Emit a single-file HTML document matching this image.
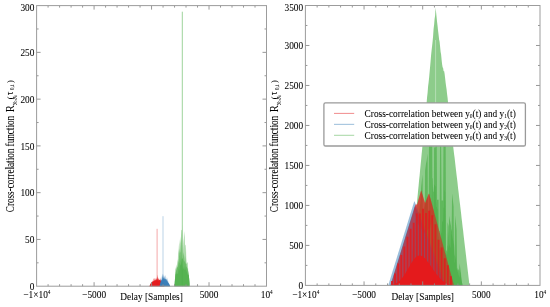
<!DOCTYPE html>
<html><head><meta charset="utf-8"><style>html,body{margin:0;padding:0;background:#fff;overflow:hidden}svg{display:block} text{stroke:#000;stroke-width:0.05px}</style></head>
<body><svg width="550" height="307" viewBox="0 0 550 307" font-family='"Liberation Serif", "DejaVu Serif", serif' font-size="9.35" fill="#000">
<rect width="550" height="307" fill="#fff"/>
<path d="M149.60 286.20 149.60 286.20 149.90 285.45 150.20 284.70 150.50 283.95 150.80 283.49 151.10 283.17 151.40 282.86 151.70 282.54 152.00 282.23 152.30 279.64 152.60 281.65 152.90 281.50 153.20 281.35 153.50 278.32 153.80 278.80 154.10 279.04 154.40 280.75 154.70 280.60 155.00 280.07 155.30 280.30 155.60 280.19 155.90 280.14 156.20 277.13 156.50 280.06 156.80 279.21 157.10 276.70 157.40 279.93 157.70 276.41 158.00 276.89 158.30 279.80 158.60 279.16 158.90 279.71 159.20 279.80 159.50 279.95 159.80 280.10 160.10 280.25 160.40 279.10 160.70 280.55 161.00 280.70 161.30 280.85 161.60 281.00 161.90 280.86 162.20 281.53 162.50 282.03 162.80 282.53 163.10 283.03 163.40 283.53 163.70 284.41 164.00 285.49 164.30 286.20 164.30 286.20Z" fill="#E41A1C" fill-opacity="0.5"/>
<path d="M149.60 286.20 149.60 286.20 149.90 285.45 150.20 284.70 150.50 283.77 150.80 283.49 151.10 282.23 151.40 282.86 151.70 282.54 152.00 281.98 152.30 281.91 152.60 281.65 152.90 281.50 153.20 281.35 153.50 281.20 153.80 281.05 154.10 280.50 154.40 280.74 154.70 280.60 155.00 278.83 155.30 280.30 155.60 280.19 155.90 278.33 156.20 280.10 156.50 278.98 156.80 279.88 157.10 275.67 157.40 274.79 157.70 278.63 158.00 277.72 158.30 279.80 158.60 279.10 158.90 277.65 159.20 279.80 159.50 279.95 159.80 280.10 160.10 276.91 160.40 280.40 160.70 280.55 161.00 280.70 161.30 280.85 161.60 281.00 161.90 279.68 162.20 280.49 162.50 282.03 162.80 281.81 163.10 283.03 163.40 283.53 163.70 284.41 164.00 285.49 164.30 286.20 164.30 286.20Z" fill="#E41A1C" fill-opacity="0.5"/>
<path d="M149.60 286.20 149.60 286.20 149.90 285.45 150.20 284.70 150.50 283.95 150.80 283.49 151.10 283.17 151.40 282.86 151.70 282.54 152.00 281.12 152.30 281.91 152.60 281.65 152.90 281.50 153.20 281.35 153.50 281.20 153.80 281.05 154.10 278.10 154.40 278.20 154.70 280.60 155.00 280.45 155.30 280.02 155.60 277.77 155.90 280.14 156.20 278.22 156.50 280.06 156.80 280.01 157.10 278.41 157.40 279.93 157.70 279.00 158.00 279.04 158.30 279.80 158.60 279.76 158.90 279.71 159.20 279.80 159.50 279.95 159.80 280.10 160.10 280.25 160.40 280.40 160.70 278.60 161.00 280.70 161.30 280.85 161.60 281.00 161.90 281.15 162.20 281.53 162.50 281.22 162.80 282.53 163.10 283.03 163.40 283.53 163.70 284.41 164.00 285.49 164.30 286.20 164.30 286.20Z" fill="#E41A1C" fill-opacity="0.5"/>
<path d="M149.60 286.20 149.60 286.20 149.90 285.48 150.20 284.80 150.50 284.18 150.80 283.70 151.10 283.60 151.40 283.34 151.70 282.80 152.00 282.54 152.30 282.02 152.60 282.32 152.90 281.81 153.20 281.72 153.50 281.50 153.80 281.26 154.10 281.28 154.40 281.11 154.70 281.03 155.00 280.78 155.30 280.97 155.60 280.59 155.90 280.44 156.20 280.84 156.50 280.07 156.80 280.25 157.10 280.01 157.40 280.59 157.70 280.41 158.00 280.55 158.30 280.72 158.60 280.71 158.90 280.45 159.20 279.93 159.50 280.73 159.80 280.38 160.10 280.92 160.40 281.21 160.70 281.23 161.00 280.97 161.30 281.25 161.60 281.35 161.90 281.56 162.20 282.04 162.50 282.35 162.80 282.58 163.10 283.41 163.40 283.64 163.70 284.61 164.00 285.57 164.30 286.20 164.30 286.20Z" fill="#E41A1C" fill-opacity="0.9"/>
<path d="M157.10 286.20v-57.40" stroke="#E41A1C" stroke-opacity="0.42" stroke-width="0.9"/>
<path d="M159.70 286.20 159.70 286.20 160.00 284.09 160.30 283.89 160.60 282.74 160.90 281.58 161.20 280.90 161.50 280.45 161.80 280.00 162.10 279.45 162.40 273.74 162.70 274.74 163.00 278.20 163.30 278.32 163.60 274.08 163.90 278.56 164.20 275.58 164.50 278.80 164.80 276.99 165.10 279.04 165.40 279.16 165.70 279.44 166.00 279.80 166.30 279.00 166.60 278.69 166.90 280.88 167.20 281.24 167.50 278.77 167.80 281.96 168.10 280.48 168.40 282.93 168.70 283.47 169.00 284.02 169.30 284.56 169.60 285.11 169.90 285.65 170.20 286.20 170.20 286.20Z" fill="#377EB8" fill-opacity="0.5"/>
<path d="M159.70 286.20 159.70 286.20 160.00 285.05 160.30 283.89 160.60 282.74 160.90 277.98 161.20 280.90 161.50 280.45 161.80 275.38 162.10 279.55 162.40 279.10 162.70 276.16 163.00 278.20 163.30 278.32 163.60 273.93 163.90 277.84 164.20 278.68 164.50 278.80 164.80 278.92 165.10 275.63 165.40 275.21 165.70 279.44 166.00 279.80 166.30 280.16 166.60 280.52 166.90 279.92 167.20 280.56 167.50 281.60 167.80 281.96 168.10 282.38 168.40 282.93 168.70 282.89 169.00 283.09 169.30 284.56 169.60 285.11 169.90 285.65 170.20 286.20 170.20 286.20Z" fill="#377EB8" fill-opacity="0.5"/>
<path d="M159.70 286.20 159.70 286.20 160.00 285.05 160.30 283.81 160.60 282.34 160.90 281.35 161.20 278.37 161.50 280.45 161.80 280.00 162.10 275.82 162.40 279.10 162.70 273.54 163.00 278.20 163.30 276.15 163.60 278.44 163.90 278.56 164.20 275.15 164.50 278.80 164.80 278.92 165.10 279.04 165.40 279.16 165.70 277.55 166.00 279.80 166.30 278.73 166.60 280.52 166.90 277.03 167.20 278.13 167.50 281.22 167.80 281.96 168.10 282.11 168.40 282.93 168.70 283.47 169.00 284.02 169.30 284.56 169.60 285.11 169.90 285.65 170.20 286.20 170.20 286.20Z" fill="#377EB8" fill-opacity="0.5"/>
<path d="M159.70 286.20 159.70 286.20 160.00 285.08 160.30 284.24 160.60 283.23 160.90 282.23 161.20 280.95 161.50 280.61 161.80 280.92 162.10 279.62 162.40 279.92 162.70 279.48 163.00 278.70 163.30 279.26 163.60 278.47 163.90 279.29 164.20 279.16 164.50 279.27 164.80 279.70 165.10 279.33 165.40 279.17 165.70 279.85 166.00 280.68 166.30 280.33 166.60 280.80 166.90 281.29 167.20 281.50 167.50 282.11 167.80 282.40 168.10 282.66 168.40 283.38 168.70 283.64 169.00 284.29 169.30 284.75 169.60 285.13 169.90 285.69 170.20 286.20 170.20 286.20Z" fill="#377EB8" fill-opacity="0.85"/>
<path d="M163.00 286.20v-70.00" stroke="#377EB8" stroke-opacity="0.38" stroke-width="0.9"/>
<path d="M174.50 286.20 174.50 286.20 175.10 276.63 175.70 268.72 176.30 264.23 176.90 268.55 177.50 262.32 178.10 258.86 178.70 264.80 179.30 248.28 179.90 253.20 180.50 251.37 181.10 239.33 181.70 259.11 182.30 258.34 182.90 224.75 183.50 260.06 184.10 260.91 184.70 261.77 185.30 263.00 185.90 255.98 186.50 266.20 187.10 267.80 187.70 269.40 188.30 272.05 188.90 275.74 189.50 283.53 189.50 286.20Z" fill="#4DAF4A" fill-opacity="0.45"/>
<path d="M174.50 286.20 174.50 286.20 175.10 277.20 175.70 272.79 176.30 270.67 176.90 267.26 177.50 267.20 178.10 253.62 178.70 249.36 179.30 239.22 179.90 255.58 180.50 261.29 181.10 230.22 181.70 230.03 182.30 258.34 182.90 259.20 183.50 243.45 184.10 236.51 184.70 230.93 185.30 263.00 185.90 264.60 186.50 263.81 187.10 262.54 187.70 262.60 188.30 272.05 188.90 275.74 189.50 283.53 189.50 286.20Z" fill="#4DAF4A" fill-opacity="0.45"/>
<path d="M174.50 286.20 174.50 286.20 175.10 277.20 175.70 267.92 176.30 270.67 176.90 268.55 177.50 267.20 178.10 266.00 178.70 260.84 179.30 263.60 179.90 244.50 180.50 236.41 181.10 260.20 181.70 228.61 182.30 258.34 182.90 259.20 183.50 252.20 184.10 256.09 184.70 261.77 185.30 245.53 185.90 244.51 186.50 266.20 187.10 267.80 187.70 268.99 188.30 272.05 188.90 275.74 189.50 283.53 189.50 286.20Z" fill="#4DAF4A" fill-opacity="0.45"/>
<path d="M174.50 286.20 174.50 286.20 175.10 279.32 175.70 273.93 176.30 274.45 176.90 272.38 177.50 273.99 178.10 273.78 178.70 267.62 179.30 270.89 179.90 262.81 180.50 265.63 181.10 264.60 181.70 260.25 182.30 266.17 182.90 269.88 183.50 268.22 184.10 266.40 184.70 270.06 185.30 269.67 185.90 266.87 186.50 271.18 187.10 272.65 187.70 274.55 188.30 274.70 188.90 275.76 189.50 284.42 189.50 286.20Z" fill="#4DAF4A" fill-opacity="0.7"/>
<path d="M182.30 286.20v-274.50" stroke="#4DAF4A" stroke-opacity="0.62" stroke-width="0.9"/>
<path d="M409.10 285.40 409.10 284.37 409.60 279.17 410.10 273.97 410.60 268.86 411.10 263.67 411.60 258.29 412.10 253.35 412.60 248.16 413.10 242.63 413.60 237.58 414.10 232.51 414.60 227.24 415.10 221.95 415.60 217.02 416.10 211.94 416.60 206.25 417.10 201.15 417.60 196.09 418.10 190.61 418.60 185.67 419.10 180.02 419.60 175.66 420.10 170.08 420.60 164.97 421.10 159.94 421.60 154.44 422.10 149.73 422.60 143.75 423.10 138.45 423.60 134.36 424.10 128.65 424.60 123.77 425.10 118.92 425.60 112.34 426.10 107.96 426.60 103.29 427.10 97.12 427.60 92.84 428.10 86.27 428.60 82.45 429.10 77.66 429.60 72.13 430.10 66.64 430.60 61.18 431.10 54.98 431.60 50.26 432.10 45.92 432.60 41.53 433.10 36.00 433.60 28.68 434.10 24.87 434.60 19.06 435.10 15.59 435.60 7.80 436.10 12.41 436.60 17.28 437.10 22.19 437.60 26.32 438.10 31.07 438.60 35.00 439.10 39.52 439.60 41.68 440.10 46.75 440.60 51.71 441.10 54.45 441.60 59.86 442.10 64.31 442.60 67.28 443.10 68.00 443.60 71.25 444.10 70.94 444.60 73.63 445.10 78.08 445.60 82.49 446.10 86.18 446.60 89.58 447.10 94.31 447.60 97.90 448.10 103.35 448.60 107.42 449.10 111.78 449.60 114.81 450.10 119.16 450.60 124.41 451.10 128.52 451.60 132.97 452.10 136.59 452.60 141.89 453.10 146.09 453.60 149.88 454.10 154.35 454.60 157.84 455.10 162.25 455.60 166.76 456.10 170.89 456.60 175.13 457.10 179.31 457.60 183.44 458.10 188.48 458.60 192.29 459.10 196.99 459.60 200.99 460.10 204.97 460.60 209.17 461.10 213.55 461.60 218.32 462.10 222.36 462.60 226.73 463.10 230.53 463.60 235.24 464.10 239.45 464.60 243.66 465.10 248.03 465.60 252.00 466.10 256.35 466.60 260.74 467.10 264.92 467.60 269.26 468.10 273.44 468.60 277.74 469.10 282.00 469.10 285.40Z" fill="#4DAF4A" fill-opacity="0.64"/>
<path d="M409.10 285.40 409.10 285.40 409.60 285.40 410.10 284.56 410.60 280.35 411.10 276.14 411.60 272.98 412.10 269.11 412.60 265.23 413.10 278.26 413.60 277.10 414.10 275.95 414.60 252.54 415.10 248.97 415.60 277.18 416.10 276.45 416.60 275.72 417.10 272.32 417.60 271.40 418.10 216.34 418.60 212.07 419.10 212.41 419.60 208.40 420.10 204.39 420.60 200.38 421.10 187.64 421.60 183.24 422.10 178.84 422.60 174.43 423.10 252.36 423.60 251.09 424.10 249.83 424.60 248.57 425.10 170.55 425.60 166.75 426.10 162.94 426.60 160.91 427.10 157.16 427.60 153.41 428.10 253.28 428.60 252.39 429.10 117.44 429.60 113.05 430.10 112.55 430.60 118.26 431.10 118.26 431.60 118.26 432.10 118.26 432.60 238.38 433.10 238.38 433.60 238.38 434.10 147.59 434.60 147.59 435.10 147.59 435.60 147.59 436.10 119.92 436.60 119.92 437.10 208.65 437.60 208.65 438.10 236.56 438.60 236.56 439.10 230.70 439.60 230.70 440.10 141.93 440.60 141.93 441.10 141.93 441.60 200.43 442.10 200.43 442.60 200.43 443.10 200.43 443.60 123.16 444.10 124.59 444.60 128.96 445.10 122.72 445.60 127.39 446.10 249.66 446.60 250.75 447.10 251.84 447.60 222.19 448.10 224.31 448.60 226.43 449.10 243.56 449.60 245.12 450.10 246.68 450.60 248.24 451.10 228.83 451.60 231.31 452.10 193.20 452.60 197.64 453.10 202.07 453.60 206.50 454.10 261.74 454.60 263.15 455.10 215.35 455.60 220.08 456.10 224.82 456.60 229.55 457.10 267.24 457.60 268.92 458.10 270.60 458.60 268.82 459.10 270.95 459.60 263.22 460.10 267.05 460.60 270.46 461.10 274.39 461.60 280.77 462.10 283.34 462.60 285.40 463.10 285.40 463.60 285.40 464.10 285.40 464.60 285.40 465.10 285.40 465.60 285.40 466.10 285.40 466.60 285.40 467.10 285.40 467.60 285.40 468.10 285.40 468.60 285.40 469.10 285.40 469.10 285.40Z" fill="#4DAF4A" fill-opacity="0.7"/>
<path d="M409.10 285.40 409.10 285.40 409.60 285.40 410.10 284.93 410.60 282.55 411.10 282.56 411.60 281.27 412.10 279.99 412.60 278.70 413.10 277.41 413.60 275.41 414.10 274.02 414.60 272.63 415.10 271.25 415.60 277.50 416.10 276.79 416.60 252.43 417.10 249.93 417.60 251.79 418.10 249.58 418.60 265.64 419.10 264.50 419.60 262.36 420.10 261.16 420.60 240.60 421.10 238.48 421.60 257.30 422.10 256.09 422.60 254.87 423.10 253.66 423.60 210.92 424.10 208.18 424.60 205.45 425.10 202.71 425.60 205.09 426.10 202.52 426.60 199.94 427.10 197.37 427.60 194.79 428.10 220.28 428.60 218.49 429.10 216.69 429.60 214.89 430.10 254.71 430.60 254.71 431.10 254.71 431.60 254.71 432.10 178.23 432.60 178.23 433.10 191.74 433.60 191.74 434.10 184.76 434.60 184.76 435.10 186.30 435.60 186.30 436.10 206.97 436.60 206.97 437.10 199.84 437.60 199.84 438.10 199.84 438.60 199.84 439.10 249.75 439.60 249.75 440.10 249.75 440.60 249.75 441.10 232.74 441.60 232.74 442.10 221.39 442.60 221.39 443.10 221.39 443.60 207.38 444.10 208.07 444.60 189.55 445.10 192.23 445.60 252.56 446.10 253.54 446.60 254.51 447.10 255.48 447.60 245.23 448.10 246.58 448.60 247.93 449.10 215.85 449.60 218.45 450.10 221.04 450.60 223.64 451.10 226.23 451.60 233.68 452.10 236.05 452.60 238.42 453.10 240.38 453.60 242.77 454.10 245.17 454.60 254.52 455.10 256.47 455.60 258.43 456.10 260.38 456.60 268.59 457.10 270.01 457.60 271.44 458.10 272.86 458.60 275.12 459.10 276.44 459.60 277.75 460.10 271.74 460.60 274.58 461.10 277.43 461.60 280.28 462.10 283.12 462.60 285.40 463.10 285.40 463.60 285.40 464.10 285.40 464.60 285.40 465.10 285.40 465.60 285.40 466.10 285.40 466.60 285.40 467.10 285.40 467.60 285.40 468.10 285.40 468.60 285.40 469.10 285.40 469.10 285.40Z" fill="#4DAF4A" fill-opacity="0.7"/>
<path d="M435.6 40V104" stroke="#fff" stroke-opacity="0.35" stroke-width="1"/>
<path d="M388.20 285.40 388.20 285.40 388.70 283.79 389.20 282.17 389.70 280.56 390.20 278.94 390.70 277.33 391.20 275.71 391.70 274.10 392.20 272.48 392.70 270.87 393.20 269.25 393.70 267.64 394.20 266.03 394.70 264.41 395.20 262.80 395.70 261.18 396.20 259.57 396.70 257.95 397.20 256.34 397.70 254.72 398.20 253.11 398.70 251.50 399.20 249.88 399.70 248.27 400.20 246.65 400.70 245.04 401.20 243.42 401.70 241.81 402.20 240.19 402.70 238.58 403.20 236.96 403.70 235.35 404.20 233.74 404.70 232.12 405.20 230.51 405.70 228.89 406.20 227.28 406.70 225.66 407.20 224.05 407.70 222.43 408.20 220.82 408.70 219.21 409.20 217.59 409.70 215.98 410.20 214.36 410.70 212.75 411.20 211.13 411.70 209.52 412.20 207.90 412.70 206.29 413.20 204.67 413.70 203.06 414.20 201.45 414.70 201.60 415.20 202.94 415.70 204.28 416.20 205.62 416.70 206.96 417.20 208.30 417.70 209.63 418.20 210.97 418.70 212.31 419.20 213.65 419.70 214.99 420.20 216.33 420.70 217.67 421.20 219.01 421.70 220.34 422.20 221.68 422.70 223.02 423.20 224.36 423.70 225.70 424.20 227.04 424.70 228.38 425.20 229.71 425.70 231.05 426.20 232.39 426.70 233.73 427.20 235.07 427.70 236.41 428.20 237.75 428.70 239.08 429.20 240.42 429.70 241.76 430.20 243.10 430.70 244.44 431.20 245.78 431.70 247.12 432.20 248.45 432.70 249.79 433.20 251.13 433.70 252.47 434.20 253.81 434.70 255.15 435.20 256.49 435.70 257.82 436.20 259.16 436.70 260.50 437.20 261.84 437.70 263.18 438.20 264.52 438.70 265.86 439.20 267.19 439.70 268.53 440.20 269.87 440.70 271.21 441.20 272.55 441.70 273.89 442.20 275.23 442.70 276.57 443.20 277.90 443.70 279.24 444.20 280.58 444.70 281.92 445.20 283.26 445.70 284.60 445.70 285.40Z" fill="#377EB8" fill-opacity="0.5"/>
<path d="M388.20 285.40 388.20 285.40 388.70 285.40 389.20 285.40 389.70 285.40 390.20 285.40 390.70 284.42 391.20 282.80 391.70 281.17 392.20 279.55 392.70 277.92 393.20 276.29 393.70 274.67 394.20 273.04 394.70 271.42 395.20 269.79 395.70 268.16 396.20 266.54 396.70 264.91 397.20 263.29 397.70 261.66 398.20 260.03 398.70 258.41 399.20 256.78 399.70 255.16 400.20 253.53 400.70 251.90 401.20 250.28 401.70 248.65 402.20 247.03 402.70 245.40 403.20 243.77 403.70 242.15 404.20 240.52 404.70 238.90 405.20 237.27 405.70 235.64 406.20 234.02 406.70 232.39 407.20 230.77 407.70 229.14 408.20 227.51 408.70 225.89 409.20 224.26 409.70 222.64 410.20 221.01 410.70 219.38 411.20 217.76 411.70 216.13 412.20 214.51 412.70 212.88 413.20 211.25 413.70 209.63 414.20 208.00 414.70 206.38 415.20 205.93 415.70 207.27 416.20 208.60 416.70 209.93 417.20 211.27 417.70 212.60 418.20 213.93 418.70 215.27 419.20 216.60 419.70 217.93 420.20 219.27 420.70 220.60 421.20 221.93 421.70 223.27 422.20 224.60 422.70 225.93 423.20 227.27 423.70 228.60 424.20 229.93 424.70 231.27 425.20 232.60 425.70 233.93 426.20 235.27 426.70 236.60 427.20 237.93 427.70 239.27 428.20 240.60 428.70 241.93 429.20 243.27 429.70 244.60 430.20 245.93 430.70 247.27 431.20 248.60 431.70 249.93 432.20 251.27 432.70 252.60 433.20 253.93 433.70 255.27 434.20 256.60 434.70 257.93 435.20 259.27 435.70 260.60 436.20 261.93 436.70 263.27 437.20 264.60 437.70 265.93 438.20 267.27 438.70 268.60 439.20 269.93 439.70 271.27 440.20 272.60 440.70 273.93 441.20 275.27 441.70 276.60 442.20 277.93 442.70 279.27 443.20 280.60 443.70 281.93 444.20 283.27 444.70 284.60 445.20 285.40 445.70 285.40 445.70 285.40Z" fill="#377EB8" fill-opacity="0.8"/>
<path d="M390.20 285.40 390.20 285.40 390.70 285.08 391.20 283.46 391.70 281.84 392.20 280.22 392.70 278.60 393.20 276.98 393.70 275.36 394.20 273.74 394.70 272.12 395.20 270.50 395.70 268.88 396.20 267.26 396.70 265.64 397.20 264.02 397.70 262.40 398.20 260.78 398.70 259.16 399.20 257.54 399.70 255.92 400.20 254.30 400.70 252.68 401.20 251.06 401.70 249.44 402.20 247.82 402.70 246.20 403.20 244.58 403.70 242.96 404.20 241.34 404.70 239.72 405.20 238.10 405.70 236.48 406.20 234.86 406.70 233.24 407.20 231.62 407.70 230.00 408.20 228.38 408.70 226.76 409.20 225.14 409.70 223.52 410.20 221.90 410.70 220.28 411.20 218.66 411.70 217.04 412.20 215.42 412.70 213.80 413.20 212.18 413.70 210.56 414.20 208.94 414.70 207.32 415.20 205.70 415.70 204.40 416.20 204.40 416.70 204.40 417.20 204.40 417.70 202.64 418.20 200.87 418.70 199.11 419.20 197.35 419.70 195.59 420.20 193.82 420.70 192.06 421.20 190.30 421.70 191.98 422.20 193.66 422.70 195.34 423.20 197.02 423.70 198.70 424.20 200.38 424.70 202.06 425.20 203.14 425.70 201.85 426.20 200.55 426.70 199.26 427.20 197.96 427.70 196.67 428.20 195.37 428.70 194.08 429.20 194.04 429.70 195.88 430.20 197.72 430.70 199.56 431.20 201.40 431.70 203.25 432.20 205.09 432.70 206.93 433.20 208.77 433.70 210.61 434.20 212.46 434.70 214.30 435.20 216.14 435.70 217.98 436.20 219.82 436.70 221.67 437.20 223.51 437.70 225.35 438.20 227.19 438.70 229.03 439.20 230.88 439.70 232.72 440.20 234.56 440.70 236.40 441.20 238.24 441.70 240.09 442.20 241.93 442.70 243.77 443.20 245.61 443.70 247.45 444.20 249.30 444.70 251.14 445.20 252.98 445.70 254.82 446.20 256.66 446.70 258.51 447.20 260.35 447.70 262.19 448.20 264.03 448.70 265.87 449.20 267.72 449.70 269.56 450.20 271.40 450.70 273.24 451.20 275.08 451.70 276.93 452.20 278.77 452.70 280.61 453.20 282.45 453.70 284.29 453.70 285.40Z" fill="#E41A1C" fill-opacity="0.6"/>
<path d="M414.00 210.40L414.00 209.58L414.50 207.96L415.00 206.34L415.50 204.72L416.00 204.40L416.50 204.40L417.00 204.40L417.50 203.34L418.00 201.58L418.50 199.82L419.00 198.05L419.50 196.29L420.00 194.53L420.50 192.77L421.00 191.00L421.50 191.31L422.00 192.99L422.50 194.67L423.00 196.35L423.50 198.03L424.00 199.71L424.50 201.38L425.00 203.06L425.50 202.36L426.00 201.07L426.50 199.77L427.00 198.48L427.50 197.18L428.00 195.89L428.50 194.59L429.00 193.30L429.50 195.14L430.00 196.98L430.50 198.83L431.00 200.67L431.50 202.51L432.00 204.35L432.50 206.19L433.00 208.04L433.50 209.88L434.00 211.72L434.00 215.40L433.50 216.90L433.00 218.40L432.50 219.90L432.00 221.40L431.50 222.90L431.00 224.40L430.50 225.90L430.00 227.40L429.50 227.90L429.00 228.40L428.50 228.90L428.00 229.40L427.50 229.90L427.00 230.40L426.50 230.90L426.00 231.40L425.50 231.90L425.00 232.40L424.50 232.90L424.00 233.40L423.50 232.57L423.00 231.73L422.50 230.90L422.00 230.07L421.50 229.23L421.00 228.40L420.50 227.57L420.00 226.73L419.50 225.90L419.00 225.07L418.50 224.23L418.00 223.40L417.50 221.77L417.00 220.15L416.50 218.52L416.00 216.90L415.50 215.27L415.00 213.65L414.50 212.02L414.00 210.40Z" fill="#E41A1C" fill-opacity="0.3"/>
<path d="M391.05 285.40v-4.30h1.90v4.30zM394.15 285.40v-11.95h1.90v11.95zM397.25 285.40v-21.98h1.90v21.98zM400.35 285.40v-30.44h1.90v30.44zM403.45 285.40v-38.78h1.90v38.78zM406.55 285.40v-48.55h1.90v48.55zM409.65 285.40v-56.61h1.90v56.61zM412.75 285.40v-62.66h1.90v62.66zM415.85 285.40v-72.01h1.90v72.01zM418.95 285.40v-71.89h1.90v71.89zM422.05 285.40v-76.71h1.90v76.71zM425.15 285.40v-72.49h1.90v72.49zM428.25 285.40v-74.58h1.90v74.58zM431.35 285.40v-70.08h1.90v70.08zM434.45 285.40v-61.25h1.90v61.25zM437.55 285.40v-45.75h1.90v45.75zM440.65 285.40v-37.94h1.90v37.94zM443.75 285.40v-27.08h1.90v27.08zM446.85 285.40v-20.13h1.90v20.13zM449.95 285.40v-9.07h1.90v9.07z" fill="#E41A1C" fill-opacity="0.85"/>
<path d="M391.50 285.40 391.50 285.17 392.00 284.98 392.50 284.84 393.00 284.81 393.50 284.37 394.00 284.40 394.50 284.08 395.00 283.97 395.50 283.61 396.00 283.42 396.50 283.14 397.00 282.78 397.50 282.41 398.00 282.04 398.50 281.62 399.00 281.32 399.50 280.93 400.00 280.40 400.50 279.87 401.00 279.24 401.50 278.73 402.00 278.16 402.50 277.60 403.00 276.79 403.50 276.25 404.00 275.41 404.50 274.62 405.00 273.88 405.50 273.23 406.00 272.36 406.50 271.36 407.00 270.77 407.50 269.74 408.00 268.95 408.50 268.03 409.00 267.22 409.50 266.43 410.00 265.44 410.50 264.75 411.00 263.65 411.50 262.85 412.00 262.18 412.50 261.36 413.00 260.62 413.50 259.78 414.00 259.39 414.50 258.70 415.00 258.09 415.50 257.46 416.00 257.01 416.50 256.69 417.00 256.47 417.50 255.99 418.00 255.84 418.50 255.77 419.00 255.53 419.50 255.57 420.00 255.64 420.50 255.74 421.00 255.80 421.50 256.06 422.00 256.25 422.50 256.36 423.00 256.82 423.50 257.25 424.00 257.58 424.50 257.91 425.00 258.41 425.50 258.99 426.00 259.47 426.50 260.10 427.00 260.74 427.50 261.45 428.00 262.20 428.50 262.71 429.00 263.44 429.50 264.05 430.00 264.97 430.50 265.54 431.00 266.48 431.50 267.01 432.00 267.74 432.50 268.77 433.00 269.43 433.50 269.96 434.00 270.70 434.50 271.51 435.00 272.38 435.50 273.11 436.00 273.72 436.50 274.18 437.00 274.87 437.50 275.61 438.00 276.12 438.50 276.66 439.00 277.41 439.50 277.78 440.00 278.49 440.50 278.97 441.00 279.54 441.50 279.96 442.00 280.28 442.50 280.85 443.00 281.09 443.50 281.57 444.00 281.75 444.50 282.26 445.00 282.55 445.50 282.82 446.00 283.00 446.50 283.19 447.00 283.44 447.50 283.66 448.00 283.89 448.50 284.12 449.00 284.35 449.50 284.56 450.00 284.51 450.50 284.78 451.00 284.83 451.50 285.12 452.00 285.14 452.50 285.32 452.50 285.40Z" fill="#E41A1C" fill-opacity="1.0"/>
<path d="M48.09 286.20v-2 M48.09 5.60v2 M59.59 286.20v-2 M59.59 5.60v2 M71.09 286.20v-2 M71.09 5.60v2 M82.58 286.20v-2 M82.58 5.60v2 M94.08 286.20v-4 M94.08 5.60v4 M105.57 286.20v-2 M105.57 5.60v2 M117.06 286.20v-2 M117.06 5.60v2 M128.56 286.20v-2 M128.56 5.60v2 M140.06 286.20v-2 M140.06 5.60v2 M151.55 286.20v-4 M151.55 5.60v4 M163.05 286.20v-2 M163.05 5.60v2 M174.54 286.20v-2 M174.54 5.60v2 M186.03 286.20v-2 M186.03 5.60v2 M197.53 286.20v-2 M197.53 5.60v2 M209.03 286.20v-4 M209.03 5.60v4 M220.52 286.20v-2 M220.52 5.60v2 M232.01 286.20v-2 M232.01 5.60v2 M243.51 286.20v-2 M243.51 5.60v2 M255.00 286.20v-2 M255.00 5.60v2 M36.60 262.82h2 M266.50 262.82h-2 M36.60 239.43h4 M266.50 239.43h-4 M36.60 216.05h2 M266.50 216.05h-2 M36.60 192.67h4 M266.50 192.67h-4 M36.60 169.28h2 M266.50 169.28h-2 M36.60 145.90h4 M266.50 145.90h-4 M36.60 122.52h2 M266.50 122.52h-2 M36.60 99.13h4 M266.50 99.13h-4 M36.60 75.75h2 M266.50 75.75h-2 M36.60 52.37h4 M266.50 52.37h-4 M36.60 28.98h2 M266.50 28.98h-2" stroke="#8c8c8c" stroke-width="0.9" fill="none"/>
<rect x="36.6" y="5.6" width="229.90" height="280.60" stroke="#9c9c9c" stroke-width="1" fill="none"/>
<text transform="translate(34.40,289.80) scale(1,1.2)" text-anchor="end">0</text>
<text transform="translate(34.40,243.03) scale(1,1.2)" text-anchor="end">50</text>
<text transform="translate(34.40,196.27) scale(1,1.2)" text-anchor="end">100</text>
<text transform="translate(34.40,149.50) scale(1,1.2)" text-anchor="end">150</text>
<text transform="translate(34.40,102.73) scale(1,1.2)" text-anchor="end">200</text>
<text transform="translate(34.40,55.97) scale(1,1.2)" text-anchor="end">250</text>
<text transform="translate(34.40,10.90) scale(1,1.2)" text-anchor="end">300</text>
<text transform="translate(36.90,298.00) scale(1,1.2)" text-anchor="middle">−1×10<tspan font-size="5.2" dy="-3.6">4</tspan></text>
<text transform="translate(94.08,298.00) scale(1,1.2)" text-anchor="middle">−5000</text>
<text transform="translate(209.03,298.00) scale(1,1.2)" text-anchor="middle">5000</text>
<text transform="translate(266.70,298.00) scale(1,1.2)" text-anchor="middle">10<tspan font-size="5.2" dy="-3.6">4</tspan></text>
<text transform="translate(151.55,300.40) scale(1,1.2)" text-anchor="middle">Delay [Samples]</text>
<path d="M317.13 285.40v-2 M317.13 5.50v2 M328.86 285.40v-2 M328.86 5.50v2 M340.59 285.40v-2 M340.59 5.50v2 M352.32 285.40v-2 M352.32 5.50v2 M364.05 285.40v-4 M364.05 5.50v4 M375.78 285.40v-2 M375.78 5.50v2 M387.51 285.40v-2 M387.51 5.50v2 M399.24 285.40v-2 M399.24 5.50v2 M410.97 285.40v-2 M410.97 5.50v2 M422.70 285.40v-4 M422.70 5.50v4 M434.43 285.40v-2 M434.43 5.50v2 M446.16 285.40v-2 M446.16 5.50v2 M457.89 285.40v-2 M457.89 5.50v2 M469.62 285.40v-2 M469.62 5.50v2 M481.35 285.40v-4 M481.35 5.50v4 M493.08 285.40v-2 M493.08 5.50v2 M504.81 285.40v-2 M504.81 5.50v2 M516.54 285.40v-2 M516.54 5.50v2 M528.27 285.40v-2 M528.27 5.50v2 M305.40 265.41h2 M540.00 265.41h-2 M305.40 245.41h4 M540.00 245.41h-4 M305.40 225.42h2 M540.00 225.42h-2 M305.40 205.43h4 M540.00 205.43h-4 M305.40 185.44h2 M540.00 185.44h-2 M305.40 165.44h4 M540.00 165.44h-4 M305.40 145.45h2 M540.00 145.45h-2 M305.40 125.46h4 M540.00 125.46h-4 M305.40 105.46h2 M540.00 105.46h-2 M305.40 85.47h4 M540.00 85.47h-4 M305.40 65.48h2 M540.00 65.48h-2 M305.40 45.49h4 M540.00 45.49h-4 M305.40 25.49h2 M540.00 25.49h-2" stroke="#8c8c8c" stroke-width="0.9" fill="none"/>
<rect x="305.4" y="5.5" width="234.60" height="279.90" stroke="#9c9c9c" stroke-width="1" fill="none"/>
<text transform="translate(303.20,289.00) scale(1,1.2)" text-anchor="end">0</text>
<text transform="translate(303.20,249.01) scale(1,1.2)" text-anchor="end">500</text>
<text transform="translate(303.20,209.03) scale(1,1.2)" text-anchor="end">1000</text>
<text transform="translate(303.20,169.04) scale(1,1.2)" text-anchor="end">1500</text>
<text transform="translate(303.20,129.06) scale(1,1.2)" text-anchor="end">2000</text>
<text transform="translate(303.20,89.07) scale(1,1.2)" text-anchor="end">2500</text>
<text transform="translate(303.20,49.09) scale(1,1.2)" text-anchor="end">3000</text>
<text transform="translate(303.20,10.80) scale(1,1.2)" text-anchor="end">3500</text>
<text transform="translate(305.70,298.00) scale(1,1.2)" text-anchor="middle">−1×10<tspan font-size="5.2" dy="-3.6">4</tspan></text>
<text transform="translate(364.05,298.00) scale(1,1.2)" text-anchor="middle">−5000</text>
<text transform="translate(481.35,298.00) scale(1,1.2)" text-anchor="middle">5000</text>
<text transform="translate(540.20,298.00) scale(1,1.2)" text-anchor="middle">10<tspan font-size="5.2" dy="-3.6">4</tspan></text>
<text transform="translate(422.70,300.40) scale(1,1.2)" text-anchor="middle">Delay [Samples]</text>
<text transform="translate(13.80,212.20) rotate(-90) scale(1,1.3)" text-anchor="start"><tspan x="0" textLength="96.3" lengthAdjust="spacingAndGlyphs">Cross-correlation function</tspan></text><text transform="translate(13.80,212.20) rotate(-90) scale(1,1.1)" text-anchor="start" font-size="10.6"><tspan x="99.9">R</tspan><tspan x="107.1" dy="1.8" font-size="5.4">y</tspan><tspan font-size="3.8" dy="0.9">0</tspan><tspan font-size="5.4" dy="-0.9">,y</tspan><tspan font-size="3.8" dy="0.9">i</tspan><tspan x="113.0" dy="-3.8" font-size="8.2">(</tspan><tspan x="117.0" font-size="9.4">τ</tspan><tspan x="121.9" font-size="5.6" dy="1.6">0,i</tspan><tspan x="129.3" font-size="8.2" dy="-1.6">)</tspan></text>
<text transform="translate(278.00,212.20) rotate(-90) scale(1,1.3)" text-anchor="start"><tspan x="0" textLength="96.3" lengthAdjust="spacingAndGlyphs">Cross-correlation function</tspan></text><text transform="translate(278.00,212.20) rotate(-90) scale(1,1.1)" text-anchor="start" font-size="10.6"><tspan x="99.9">R</tspan><tspan x="107.1" dy="1.8" font-size="5.4">y</tspan><tspan font-size="3.8" dy="0.9">0</tspan><tspan font-size="5.4" dy="-0.9">,y</tspan><tspan font-size="3.8" dy="0.9">i</tspan><tspan x="113.0" dy="-3.8" font-size="8.2">(</tspan><tspan x="117.0" font-size="9.4">τ</tspan><tspan x="121.9" font-size="5.6" dy="1.6">0,i</tspan><tspan x="129.3" font-size="8.2" dy="-1.6">)</tspan></text>
<rect x="323.9" y="102.9" width="201.5" height="43.1" rx="1.6" fill="#fff" stroke="#9a9a9a" stroke-width="1.3"/>
<path d="M334 113.40H354.2" stroke="#E41A1C" stroke-opacity="0.5" stroke-width="1.0"/>
<text transform="translate(364.60,116.70) scale(1,1.2)" text-anchor="start">Cross-correlation between y<tspan font-size="5.5" dy="1.3">0</tspan><tspan dy="-1.3">(t) and y</tspan><tspan font-size="5.5" dy="1.3">1</tspan><tspan dy="-1.3">(t)</tspan></text>
<path d="M334 124.35H354.2" stroke="#377EB8" stroke-opacity="0.5" stroke-width="1.0"/>
<text transform="translate(364.60,127.65) scale(1,1.2)" text-anchor="start">Cross-correlation between y<tspan font-size="5.5" dy="1.3">0</tspan><tspan dy="-1.3">(t) and y</tspan><tspan font-size="5.5" dy="1.3">2</tspan><tspan dy="-1.3">(t)</tspan></text>
<path d="M334 135.30H354.2" stroke="#4DAF4A" stroke-opacity="0.5" stroke-width="1.0"/>
<text transform="translate(364.60,138.60) scale(1,1.2)" text-anchor="start">Cross-correlation between y<tspan font-size="5.5" dy="1.3">0</tspan><tspan dy="-1.3">(t) and y</tspan><tspan font-size="5.5" dy="1.3">3</tspan><tspan dy="-1.3">(t)</tspan></text>
</svg></body></html>
